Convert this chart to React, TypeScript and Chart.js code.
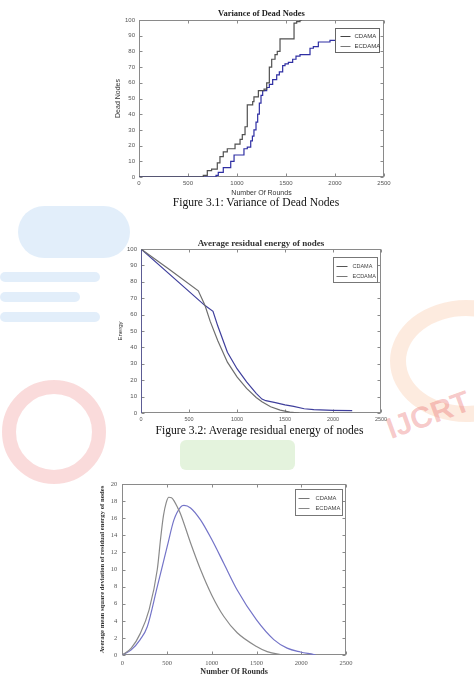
import React, { useEffect, useRef } from "react";
import { Chart, registerables } from "chart.js";
Chart.register(...registerables);

// ---------- Data ----------
const xTickStep = 500;
const xMax = 2500;

// Figure 3.1: Variance of Dead Nodes (step curves)
const deadRoundsCDAMA = [0, 656, 697, 741, 799, 826, 860, 901, 980, 1031, 1054, 1082, 1105, 1160, 1173, 1218, 1276, 1303, 1330, 1354, 1388, 1411, 1439, 1582, 1609, 1643, 1664];
const deadNodesCDAMA = [0, 1, 4, 5, 9, 13, 16, 18, 21, 24, 27, 32, 46, 48, 51, 55, 56, 60, 70, 75, 78, 80, 88, 98, 99, 100, 100];
const deadRoundsECDAMA = [0, 786, 809, 860, 936, 970, 1071, 1105, 1140, 1157, 1173, 1194, 1211, 1228, 1245, 1262, 1303, 1330, 1364, 1405, 1432, 1466, 1490, 1524, 1568, 1602, 1643, 1745, 1779, 1830, 1949, 2050, 2150];
const deadNodesECDAMA = [0, 1, 3, 6, 10, 14, 18, 19, 23, 26, 30, 35, 40, 47, 52, 55, 57, 59, 62, 65, 67, 71, 72, 73, 75, 77, 78, 82, 83, 86, 87, 88, 88];

// Figure 3.2: Average residual energy of nodes
const energyRoundsCDAMA = [0, 300, 597, 667, 720, 800, 900, 1000, 1100, 1200, 1260, 1350, 1450, 1550, 1650];
const energyCDAMA = [100, 87.3, 74.5, 65.5, 56, 44, 31, 22, 15, 9.5, 6.8, 3.8, 1.8, 0.5, 0];
const energyRoundsECDAMA = [0, 0, 667, 750, 800, 900, 1000, 1100, 1200, 1260, 1300, 1400, 1500, 1590, 1700, 1800, 2000, 2200];
const energyECDAMA = [0, 100, 65.5, 62, 53, 37, 27, 19, 12, 8.5, 7.5, 6.3, 5, 4, 2.6, 2, 1.6, 1.4];

// Figure 3.3: Average mean square deviation of residual energy of nodes
const msdRoundsCDAMA = [0, 100, 200, 300, 391, 430, 460, 490, 520, 550, 580, 620, 651, 763, 874, 1000, 1135, 1284, 1500, 1619, 1767, 1800];
const msdCDAMA = [0, 0.8, 2.5, 5.3, 10, 13.8, 16.3, 17.8, 18.45, 18.4, 18, 17.2, 16.5, 13.1, 10, 7, 4.5, 2.6, 1, 0.4, 0.05, 0];
const msdRoundsECDAMA = [0, 100, 200, 279, 391, 502, 577, 651, 689, 763, 874, 1000, 1135, 1284, 1500, 1693, 1842, 1991, 2140, 2160];
const msdECDAMA = [0, 0.6, 1.8, 3.3, 8, 12.7, 15.8, 17.3, 17.5, 17.2, 15.8, 13.5, 10.7, 7.6, 4.1, 1.8, 0.8, 0.35, 0.05, 0];

const seriesNames = ["CDAMA", "ECDAMA"];

// ---------- Helpers ----------
const pts = (xs: number[], ys: number[]) => xs.map((x, i) => ({ x, y: ys[i] }));

const frameTicksPlugin = {
  id: "frameTicks",
  beforeDatasetsDraw(chart: any, _a: any, o: any) {
    const { ctx, chartArea: a, scales } = chart;
    const len = o.length ?? 3;
    ctx.save();
    ctx.strokeStyle = o.color || "#888";
    ctx.lineWidth = 1;
    const L = Math.round(a.left) + 0.5, R = Math.round(a.right) - 0.5;
    const T = Math.round(a.top) + 0.5, B = Math.round(a.bottom) - 0.5;
    ctx.strokeRect(L, T, R - L, B - T);
    ctx.beginPath();
    scales.x.ticks.forEach((t: any) => {
      const px = Math.round(scales.x.getPixelForValue(t.value)) + 0.5;
      ctx.moveTo(px, B); ctx.lineTo(px, B - len);
      ctx.moveTo(px, T); ctx.lineTo(px, T + len);
    });
    scales.y.ticks.forEach((t: any) => {
      const py = Math.round(scales.y.getPixelForValue(t.value)) + 0.5;
      ctx.moveTo(L, py); ctx.lineTo(L + len, py);
      ctx.moveTo(R, py); ctx.lineTo(R - len, py);
    });
    ctx.stroke();
    ctx.restore();
  },
};

const boxLegendPlugin = {
  id: "boxLegend",
  afterDatasetsDraw(chart: any, _a: any, o: any) {
    const { ctx, chartArea: a } = chart;
    const left = Math.round(a.right - o.rightGap - o.width) + 0.5;
    const top = Math.round(a.top + o.topGap) + 0.5;
    ctx.save();
    ctx.fillStyle = "#fff";
    ctx.fillRect(left, top, o.width, o.height);
    ctx.strokeStyle = o.borderColor;
    ctx.lineWidth = 1;
    ctx.strokeRect(left, top, o.width, o.height);
    ctx.font = `${o.fontSize}px ${o.fontFamily}`;
    ctx.textBaseline = "middle";
    ctx.textAlign = "left";
    chart.data.datasets.forEach((ds: any, i: number) => {
      const y = Math.round(top + o.firstRow + i * o.rowStep) + 0.5;
      ctx.strokeStyle = o.lineColors ? o.lineColors[i] : ds.borderColor;
      ctx.beginPath();
      ctx.moveTo(left + o.lineStart, y);
      ctx.lineTo(left + o.lineEnd, y);
      ctx.stroke();
      ctx.fillStyle = o.textColor;
      ctx.fillText(ds.label, left + o.textX, y);
    });
    ctx.restore();
  },
};

const SANS = "'Liberation Sans', Arial, sans-serif";
const SERIF = "'Liberation Serif', 'Times New Roman', serif";
const fmt = (v: any) => String(v);

function makeAxis(opts: any) {
  return {
    type: "linear",
    min: opts.min,
    max: opts.max,
    grid: { display: false, drawTicks: false, tickLength: 0 },
    border: { display: false },
    ticks: {
      stepSize: opts.step,
      autoSkip: false,
      maxRotation: 0,
      padding: opts.tickPad,
      font: { family: opts.tickFamily, size: opts.tickSize },
      color: "#555",
      callback: fmt,
    },
    title: opts.title
      ? {
          display: true,
          text: opts.title,
          font: { family: opts.titleFamily, size: opts.titleSize, weight: opts.titleWeight || "normal" },
          color: opts.titleColor || "#333",
          padding: opts.titlePad,
        }
      : { display: false },
    afterFit: (s: any) => {
      if (opts.width != null) s.width = opts.width;
      if (opts.height != null) s.height = opts.height;
    },
  };
}

function line(label: string, data: any[], color: string, extra: any = {}) {
  return { label, data, borderColor: color, backgroundColor: color, borderWidth: 1.2, pointRadius: 0, fill: false, ...extra };
}

// ---------- Configs ----------
const config1 = () => ({
  type: "line",
  data: {
    datasets: [
      line(seriesNames[0], pts(deadRoundsCDAMA, deadNodesCDAMA), "#505050", { stepped: "before" }),
      line(seriesNames[1], pts(deadRoundsECDAMA, deadNodesECDAMA), "#2f2fa3", { stepped: "before" }),
    ],
  },
  options: {
    responsive: false,
    animation: false,
    events: [],
    layout: { padding: { left: 110, right: 90, top: 0, bottom: 0 } },
    plugins: {
      legend: { display: false },
      tooltip: { enabled: false },
      title: {
        display: true,
        text: "Variance of Dead Nodes",
        fullSize: false,
        font: { family: SERIF, size: 8.5, weight: "bold" },
        color: "#222",
        padding: { top: 9, bottom: 0.8 },
      },
      frameTicks: { color: "#8a8a8a", length: 3 },
      boxLegend: {
        rightGap: 5, topGap: 8, width: 44, height: 24,
        lineStart: 5, lineEnd: 15, textX: 19, firstRow: 7.5, rowStep: 9.5,
        fontSize: 6, fontFamily: SANS, textColor: "#333", borderColor: "#666",
        lineColors: ["#444", "#777"],
      },
    },
    scales: {
      x: makeAxis({ min: 0, max: xMax, step: xTickStep, tickPad: 3, tickFamily: SANS, tickSize: 6, title: "Number Of Rounds", titleFamily: SANS, titleSize: 7, titlePad: { top: 0, bottom: 2.5 }, height: 23 }),
      y: makeAxis({ min: 0, max: 100, step: 10, tickPad: 4, tickFamily: SANS, tickSize: 6, title: "Dead Nodes", titleFamily: SANS, titleSize: 7, titlePad: { top: 3.5, bottom: 0 }, width: 29 }),
    },
  },
  plugins: [frameTicksPlugin, boxLegendPlugin],
});

const config2 = () => ({
  type: "line",
  data: {
    datasets: [
      line(seriesNames[0], pts(energyRoundsCDAMA, energyCDAMA), "#6e6e6e"),
      line(seriesNames[1], pts(energyRoundsECDAMA, energyECDAMA), "#3f3f9c"),
    ],
  },
  options: {
    responsive: false,
    animation: false,
    events: [],
    layout: { padding: { left: 113, right: 93, top: 0, bottom: 0 } },
    plugins: {
      legend: { display: false },
      tooltip: { enabled: false },
      title: {
        display: true,
        text: "Average residual energy of nodes",
        fullSize: false,
        font: { family: SERIF, size: 9, weight: "bold" },
        color: "#333",
        padding: { top: 8, bottom: 0.2 },
      },
      frameTicks: { color: "#8a8a8a", length: 3 },
      boxLegend: {
        rightGap: 4, topGap: 8, width: 44, height: 25,
        lineStart: 3, lineEnd: 14, textX: 19, firstRow: 8.5, rowStep: 9.5,
        fontSize: 5.5, fontFamily: SANS, textColor: "#444", borderColor: "#777",
        lineColors: ["#555", "#777"],
      },
    },
    scales: {
      x: makeAxis({ min: 0, max: xMax, step: xTickStep, tickPad: 3, tickFamily: SANS, tickSize: 5.5, height: 15 }),
      y: makeAxis({ min: 0, max: 100, step: 10, tickPad: 4, tickFamily: SANS, tickSize: 6, title: "Energy", titleFamily: SANS, titleSize: 6, titlePad: { top: 4, bottom: 0 }, width: 28 }),
    },
  },
  plugins: [frameTicksPlugin, boxLegendPlugin],
});

const config3 = () => ({
  type: "line",
  data: {
    datasets: [
      line(seriesNames[0], pts(msdRoundsCDAMA, msdCDAMA), "#8a8a8a", { cubicInterpolationMode: "monotone" }),
      line(seriesNames[1], pts(msdRoundsECDAMA, msdECDAMA), "#7474c8", { cubicInterpolationMode: "monotone" }),
    ],
  },
  options: {
    responsive: false,
    animation: false,
    events: [],
    layout: { padding: { left: 96, right: 128, top: 14, bottom: 0 } },
    plugins: {
      legend: { display: false },
      tooltip: { enabled: false },
      title: { display: false },
      frameTicks: { color: "#8a8a8a", length: 3 },
      boxLegend: {
        rightGap: 4.5, topGap: 4.5, width: 47, height: 26,
        lineStart: 3, lineEnd: 14, textX: 20, firstRow: 8.5, rowStep: 10,
        fontSize: 5.8, fontFamily: SANS, textColor: "#444", borderColor: "#777",
        lineColors: ["#777", "#888"],
      },
    },
    scales: {
      x: makeAxis({ min: 0, max: xMax, step: xTickStep, tickPad: 4, tickFamily: SERIF, tickSize: 6.5, title: "Number Of Rounds", titleFamily: SERIF, titleSize: 8, titleWeight: "bold", titleColor: "#333", titlePad: { top: 0, bottom: 1.5 }, height: 23 }),
      y: makeAxis({ min: 0, max: 20, step: 2, tickPad: 5, tickFamily: SERIF, tickSize: 6.5, title: "Average mean square deviation of residual energy of nodes", titleFamily: SERIF, titleSize: 6.7, titleWeight: "bold", titleColor: "#333", titlePad: { top: 2, bottom: 0 }, width: 26.3 }),
    },
  },
  plugins: [frameTicksPlugin, boxLegendPlugin],
});

// ---------- Components ----------
function ChartCanvas({ make, top, height }: { make: () => any; top: number; height: number }) {
  const ref = useRef<HTMLCanvasElement>(null);
  useEffect(() => {
    const chart = new Chart(ref.current as HTMLCanvasElement, make() as any);
    return () => chart.destroy();
  }, []);
  return (
    <canvas
      ref={ref}
      width={474}
      height={height}
      style={{ position: "absolute", left: 0, top, width: 474, height }}
    />
  );
}

const captionStyle: React.CSSProperties = {
  position: "absolute",
  left: 0,
  width: 474,
  fontFamily: SERIF,
  fontSize: 11.6,
  lineHeight: "14px",
  color: "#111",
  whiteSpace: "nowrap",
};

export default function App() {
  return (
    <div style={{ position: "absolute", left: 0, top: 0, width: 474, height: 678, background: "#fff", overflow: "hidden" }}>
      {/* faint watermark */}
      <div style={{ position: "absolute", left: 18, top: 206, width: 112, height: 52, borderRadius: 26, background: "rgba(110,170,230,0.2)" }} />
      <div style={{ position: "absolute", left: 0, top: 272, width: 100, height: 10, borderRadius: 5, background: "rgba(110,170,230,0.2)" }} />
      <div style={{ position: "absolute", left: 0, top: 292, width: 80, height: 10, borderRadius: 5, background: "rgba(110,170,230,0.2)" }} />
      <div style={{ position: "absolute", left: 0, top: 312, width: 100, height: 10, borderRadius: 5, background: "rgba(110,170,230,0.2)" }} />
      <div style={{ position: "absolute", left: 2, top: 380, width: 76, height: 76, borderRadius: "50%", border: "14px solid rgba(235,110,110,0.25)" }} />
      <div style={{ position: "absolute", left: 180, top: 440, width: 115, height: 30, borderRadius: 6, background: "rgba(130,200,100,0.22)" }} />
      <div style={{ position: "absolute", left: 390, top: 300, width: 120, height: 90, borderRadius: "50%", border: "16px solid rgba(245,165,110,0.22)" }} />
      <div style={{ position: "absolute", left: 385, top: 398, fontFamily: SANS, fontWeight: "bold", fontSize: 30, color: "rgba(230,90,90,0.32)", transform: "rotate(-20deg)" }}>IJCRT</div>

      <div style={{ position: "absolute", left: 0, top: -10, fontFamily: SERIF, fontSize: 11.6, lineHeight: "14px", color: "#111" }}>ubmission</div>

      <ChartCanvas make={config1} top={0} height={200} />
      <div style={{ ...captionStyle, top: 196, textAlign: "center", paddingLeft: 38, boxSizing: "border-box" }}>Figure 3.1: Variance of Dead Nodes</div>

      <ChartCanvas make={config2} top={230} height={198} />
      <div style={{ ...captionStyle, top: 424, textAlign: "center", paddingLeft: 45, boxSizing: "border-box" }}>Figure 3.2: Average residual energy of nodes</div>

      <ChartCanvas make={config3} top={470} height={208} />
    </div>
  );
}
